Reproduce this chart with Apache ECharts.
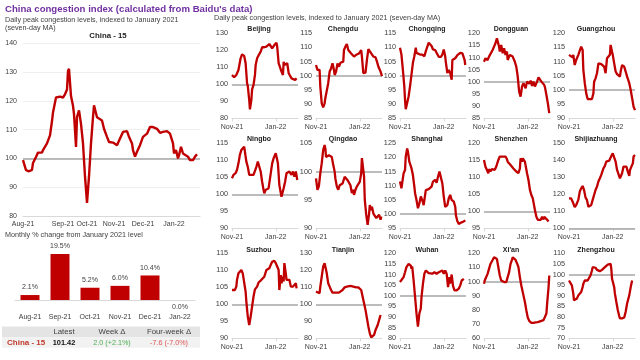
<!DOCTYPE html>
<html><head><meta charset="utf-8">
<script src="https://cdn.jsdelivr.net/npm/echarts@6/dist/echarts.min.js"></script>
<style>html,body{margin:0;padding:0;background:#fff}#c{width:640px;height:360px}</style>
</head><body><div id="c"></div><script>
// ---------- DATA ----------
const chinaTickLabels = ['Aug-21','Sep-21','Oct-21','Nov-21','Dec-21','Jan-22'];
const chinaTickPos = [0,40,64,91,120,151];
const china = [[0,99.4],[3,95.9],[6,95.5],[9,96],[10,98.4],[13,100.5],[15,102],[17,102.6],[19,102],[20,102.9],[24,105.2],[27,108],[29,113],[30,116],[33,121.2],[35,120.8],[37,121.5],[40,121.2],[42,122.3],[44,124],[45,130.4],[46,131.2],[47,126.4],[48,121.7],[50,118.3],[51,115.4],[52,109.8],[53,104],[54,114.4],[56,116.7],[57,117],[58,112],[60,105.2],[62,93.7],[64,84.5],[65,84],[66,93.7],[68,105.2],[70,114.4],[71,118.5],[72,118.5],[74,114.3],[76,114],[79,113.2],[81,110.3],[84,107.5],[86,105.7],[90,105.5],[94,104.6],[97,106.9],[100,109.2],[104,109.5],[106,107.5],[109,105.2],[110,102.9],[112,100.6],[114,102.3],[117,104.6],[120,107.5],[124,108.6],[127,110.9],[130,110.9],[134,110.3],[137,108.9],[140,109.2],[144,109.5],[147,108.6],[150,105.2],[151,101.7],[153,102.9],[155,100],[156,101.1],[158,104],[160,101.7],[162,101.1],[165,100.6],[167,99.4],[170,99.4],[172,100.6],[174,101.42]];

const months = ['Aug-21','Sep-21','Oct-21','Nov-21','Dec-21','Jan-22'];
const monthlyChange = [2.1,19.5,5.2,6.0,10.4,0.0];

const tableHeaders = ['Latest','Week \u0394','Four-week \u0394'];
const tableRowName = 'China - 15';
const tableLatest = '101.42';
const tableWeek = '2.0 (+2.1%)';
const tableFourWeek = '-7.6 (-7.0%)';

const cityTickLabels = ['Nov-21','Jan-22'];
const cityTickPos = [0,61];

const beijing = [[0,105.5],[3,104.1],[6,105.5],[9,108.4],[12,115.3],[14,117.6],[17,116.7],[19,112.4],[21,100.6],[22,99],[24,90.8],[25,85.3],[27,90.8],[28,97],[30,99.6],[32,105.5],[33,111.4],[35,115.3],[38,117.8],[40,119.2],[42,121.8],[45,121.8],[48,122.2],[50,121.8],[52,123.7],[54,123.5],[56,121.2],[58,122.2],[59,123.1],[62,124.5],[63,122.2],[65,112.4],[67,111.4],[69,107.5],[71,105.5],[72,113.3],[73,111.4],[75,111.4],[77,112.4],[79,106.5],[81,105.5],[83,103.5],[85,102.5],[88,102.5],[90,103.5]];
const chengdu = [[0,103.8],[2,102.1],[5,102.1],[6,96.2],[8,90.3],[10,88.9],[12,90.3],[13,92.1],[15,92.6],[17,97.4],[19,101.5],[21,102.6],[23,104.4],[25,102.1],[26,100.3],[28,101.5],[30,104.4],[32,103.2],[34,104.6],[36,104.4],[38,105],[39,109.1],[41,110.3],[43,111.2],[45,109.1],[47,109.4],[49,107.9],[51,108.5],[53,106.8],[56,107.4],[58,107.4],[60,107.9],[63,109.1],[64,106.8],[66,100.9],[67,101.5],[69,101.1],[71,105.6],[73,109.4],[75,108.9],[77,107.9],[80,106.8],[83,106.5],[85,105],[87,103.2],[90,101.5],[92,99.9]];
const chongqing = [[0,109.9],[2,107.5],[4,102.2],[6,96.3],[7,91.5],[8,88.2],[10,88.9],[12,92.7],[14,96.3],[16,100.4],[18,104.6],[20,106.9],[22,109.9],[23,108.1],[25,107.5],[28,107.5],[31,107.5],[34,106.9],[36,108.7],[37,108.1],[40,111.7],[42,111.4],[44,110.5],[46,109.3],[49,109.1],[51,108.1],[54,106.7],[57,106.7],[59,107.5],[61,109.3],[63,106.9],[64,104.6],[66,101],[68,102],[70,101],[72,98.6],[73,105.6],[77,106.2],[80,107.3],[84,108.1],[87,107.9],[90,105.6],[91,103.8]];
const dongguan = [[0,108.3],[2,109.7],[5,109],[7,110.4],[9,111.1],[12,113.1],[14,114.5],[16,115.9],[18,117.9],[19,117.3],[21,114.5],[22,112.5],[24,115.2],[26,111.8],[28,113.8],[30,111.1],[32,112.5],[33,109],[36,111.1],[38,111.8],[40,110.4],[43,108.3],[45,106.3],[47,102.2],[49,96],[51,93.9],[53,98.1],[55,99.4],[57,100.1],[58,97.4],[60,100.1],[63,99.2],[65,100.5],[67,98.3],[69,100.1],[71,98.1],[72,98.7],[74,100.1],[76,101.9],[78,101.1],[80,100.1],[82,100.8],[84,98.7],[85,97.8],[87,94.6],[89,91.2],[91,87.1]];
const guangzhou = [[0,112.4],[2,112],[5,111.5],[6,112.4],[8,108.8],[10,110.6],[13,112.4],[15,113.9],[17,115.3],[19,114.1],[20,107.1],[22,102.4],[24,98.8],[26,96.8],[29,96.8],[32,96.8],[34,98.8],[35,102.9],[37,104.1],[39,105.9],[41,109.4],[43,108.8],[45,109.1],[47,109.4],[49,108.2],[51,105.9],[53,111.2],[55,111.5],[57,112.4],[58,115.9],[60,113.5],[61,112.4],[63,109.4],[65,106.5],[67,105.6],[69,105.9],[71,104.7],[72,106.5],[74,108.8],[77,108.2],[79,106.5],[81,104.7],[84,102.4],[86,100],[88,97.1],[90,94.1],[92,92.9]];
const ningbo = [[0,104.7],[2,105.7],[5,106.2],[7,107.2],[9,109.1],[11,111.6],[13,113],[15,112.5],[17,114],[19,111.1],[20,109.6],[22,108.1],[24,105.7],[27,105.7],[30,105.7],[32,106.2],[34,108.1],[36,109.6],[38,109.1],[40,106.7],[42,103.7],[44,101.3],[45,100.3],[47,101.3],[49,101.8],[51,101.8],[53,104.7],[55,105.2],[56,109.1],[58,110.6],[61,112.1],[63,111.6],[64,109.1],[66,102.7],[69,99.3],[71,98.8],[72,101.8],[74,103.7],[76,106.2],[78,106.7],[80,106.7],[83,105.7],[85,106.7],[87,105.2],[89,106.7],[91,104.2]];
const qingdao = [[0,98.8],[2,96.8],[4,97.4],[6,99.7],[8,101.5],[10,103.8],[12,104.7],[13,104.1],[14,102.6],[16,102.9],[18,102.9],[20,103.2],[22,102.6],[24,101.2],[26,100],[27,98.8],[29,97.4],[31,96.8],[33,97.6],[35,97.5],[37,97.9],[39,97.9],[40,99.1],[42,99.4],[44,98.5],[46,98.2],[48,97.6],[50,96.2],[52,96.8],[53,95.9],[55,96.8],[57,97.4],[59,97.1],[61,98.2],[63,99.7],[64,102.4],[65,102.1],[67,99.1],[68,95],[70,92.4],[72,90.6],[74,92.6],[75,94.1],[77,93.2],[78,93.8],[80,92.6],[82,92.9],[84,91.8],[86,91.5],[88,92.4],[90,91.5],[91,92.1]];
const shanghai = [[0,111.5],[2,109.1],[4,108.5],[5,114.4],[7,115.6],[8,120.3],[10,123.2],[11,122.1],[13,118.5],[14,117.9],[16,116.2],[18,113.8],[20,109.7],[21,107.4],[23,105],[25,102.1],[27,103.8],[29,106.2],[31,105],[33,103.2],[35,106.8],[36,108.5],[38,108.8],[40,108.8],[42,109.5],[44,109.7],[46,111.5],[48,111.5],[49,112.1],[51,111.1],[53,113.2],[55,115],[57,114.4],[59,110.9],[61,106.2],[63,102.6],[64,102.1],[66,103.2],[68,105.6],[70,106.8],[72,105],[75,104.4],[77,102.6],[78,99.5],[80,97.5],[82,96.5],[85,97],[88,97.3],[91,97.8]];
const shenzhen = [[0,115.1],[2,113.1],[4,112.2],[6,111.2],[7,112.4],[9,111.7],[11,112.4],[13,112.6],[15,112.2],[17,113.1],[19,113.6],[20,115.1],[22,116.1],[24,116.1],[27,116.1],[30,116.1],[32,115.3],[33,114.6],[35,114.1],[37,113.6],[39,113.1],[41,112.6],[43,112.2],[45,111.7],[46,111.2],[48,111.2],[50,112.6],[51,115.6],[53,114.6],[54,115.6],[56,116.1],[57,114.6],[59,115.1],[60,111.2],[62,109.2],[64,106.3],[66,104.8],[68,103.8],[70,103.3],[71,100.4],[73,98.4],[75,97.5],[77,97],[79,97.5],[81,98.4],[83,97.6],[84,98.4],[86,97.9],[88,97.5],[90,97]];
const shijiazhuang = [[0,117.6],[3,117.6],[6,114.7],[8,112.4],[10,113.7],[13,116.7],[15,121.6],[17,123.5],[19,124.9],[21,122.5],[23,118.2],[25,116.7],[27,112.7],[29,111.8],[31,113.7],[33,116.7],[35,117.6],[37,122.5],[39,124.5],[41,127.5],[43,129.4],[45,131.4],[46,132.7],[48,135.3],[50,136.7],[52,139.2],[54,138.2],[56,139.8],[58,140.2],[59,142.5],[61,144.1],[63,143.7],[65,139.2],[67,134.3],[69,133.3],[71,129.4],[72,128.4],[74,132.4],[76,136.3],[78,136.7],[80,136.3],[82,133.3],[84,130.8],[85,134.3],[87,136.3],[89,138.2],[90,142.2],[92,143.1]];
const suzhou = [[0,104.2],[2,104.7],[4,104.2],[6,105.2],[7,107.2],[9,109.1],[11,109.6],[13,110.1],[15,109.1],[17,108.6],[19,103.7],[20,100.8],[22,96.4],[24,93.9],[26,96.4],[28,99.3],[30,102.3],[32,104.4],[33,104.7],[35,105.2],[37,106.4],[39,106.7],[41,107.2],[43,107.6],[45,108.1],[46,108.3],[48,110.1],[50,109.6],[52,110.6],[54,111.6],[56,112.5],[58,112.8],[59,112.8],[61,112.1],[63,111.1],[65,110.1],[66,104.2],[68,108.6],[69,106.2],[71,108.1],[72,106.7],[73,112.1],[75,109.1],[76,107.2],[78,107.6],[80,107.2],[82,105.2],[84,104.7],[85,105.2],[87,104.7],[89,106.2],[90,104.7]];
const tianjin = [[0,107.5],[2,106.9],[5,106.5],[6,110.4],[8,116.3],[10,122.2],[12,124.1],[13,122.2],[15,118.2],[17,112.4],[19,110.4],[21,108.4],[23,106.9],[26,106.9],[29,106.9],[32,106.9],[34,107.5],[37,108.4],[40,110],[43,110.4],[45,110.4],[48,110.8],[50,110],[52,110.4],[54,109.4],[56,110],[58,109.4],[59,110],[61,110.4],[63,108.4],[65,104.5],[67,100.6],[69,96.7],[70,95.7],[71,91.8],[73,86.9],[75,82.9],[77,80.6],[79,81],[81,82],[83,84.9],[84,85.9],[86,87.8],[88,90.8],[90,93.7]];
const wuhan = [[0,106.5],[2,107.2],[5,108.8],[7,111.1],[9,113.5],[12,115],[14,115.8],[15,114.2],[16,112.7],[17,113.8],[19,107.2],[21,99.5],[23,91.7],[25,85.5],[27,91.7],[29,94],[30,99.5],[32,105.7],[34,110.4],[36,111.9],[38,111.1],[40,110.7],[42,111.1],[45,110.4],[48,111.1],[51,110.4],[54,111.1],[56,110.7],[59,111.9],[61,110.4],[63,111.9],[65,110.4],[67,104.1],[69,108.8],[70,105.7],[72,110],[74,104.5],[76,102.6],[79,102.6],[82,103.4],[84,104.9],[86,107.2],[89,108]];
const xian = [[0,98.5],[1,100.8],[3,99.7],[5,105.5],[7,109],[9,112.5],[12,115.3],[14,117.2],[16,117.7],[18,116],[20,110.2],[22,104.3],[24,100.8],[26,99.7],[28,99.7],[31,99.7],[33,100.8],[35,106.7],[37,112.5],[39,115.3],[40,117.2],[42,116.7],[44,115.3],[46,113],[48,110.2],[50,103.2],[52,97.3],[53,95],[55,90.3],[57,85.7],[59,79.8],[61,74.7],[63,72.3],[64,71.6],[66,70.9],[69,70.9],[72,71.2],[75,71.4],[77,71.6],[80,72.3],[83,72.8],[85,74],[87,77.5],[88,84.5],[90,96.2],[91,104.3]];
const zhengzhou = [[0,97.2],[2,97.2],[4,94.9],[6,91],[7,87.9],[9,87.1],[11,88.7],[13,90.2],[15,91],[17,91.8],[19,94.1],[20,95.7],[22,97.2],[24,97.2],[26,97.2],[28,97.6],[30,99.6],[32,101.9],[33,103.5],[35,104.2],[37,103.2],[39,102.2],[41,102.7],[43,101.6],[45,101.9],[46,102.2],[48,102.7],[50,103.5],[52,104.2],[54,104.7],[56,105],[58,105],[59,102.7],[60,98],[61,97.2],[63,94.1],[64,91],[66,87.1],[68,83.3],[70,80.5],[71,79.4],[74,79.4],[77,79.8],[79,82.5],[81,86.4],[84,90.2],[86,94.1],[88,97.2]];

const cityNames = ['Beijing','Chengdu','Chongqing','Dongguan','Guangzhou','Ningbo','Qingdao','Shanghai','Shenzhen','Shijiazhuang','Suzhou','Tianjin','Wuhan',"Xi'an",'Zhengzhou'];
const citySeries = [beijing,chengdu,chongqing,dongguan,guangzhou,ningbo,qingdao,shanghai,shenzhen,shijiazhuang,suzhou,tianjin,wuhan,xian,zhengzhou];
const cityAxisMin  = [80,85,85,85,90, 90,90,95,95,100, 90,80,80,60,70];
const cityAxisMax  = [130,115,115,120,120, 115,105,125,120,150, 115,130,120,120,110];
const cityAxisStep = [10,5,5,5,5, 5,5,5,5,10, 5,10,5,10,5];
const baseline = 100;

// ---------- LAYOUT / STYLE ----------
const FONT = '"Liberation Sans", Arial, sans-serif';
const RED = '#C00000';
const TXT = '#404040';
const colLeft = [232, 316, 400, 484, 569];
const rowTop = [33.3, 143.3, 253.3];
const rowTitleY = [29, 139, 250];
const PW = 66, PH = 85;

const grids = [], xAxes = [], yAxes = [], series = [];
const refLine = {silent:true, symbol:'none', z:1, label:{show:false},
  lineStyle:{color:'#a6a6a6', width:1.5, type:'solid'}, data:[{yAxis: baseline}]};

// China line chart
grids.push({left:23, top:43.5, width:177, height:172.3});
xAxes.push({gridIndex:0, type:'value', min:0, max:177,
  axisLine:{show:true, lineStyle:{color:'#d9d9d9'}}, axisTick:{show:false}, splitLine:{show:false},
  axisLabel:{customValues:chinaTickPos, formatter:v=>chinaTickLabels[chinaTickPos.indexOf(v)]||'',
    fontSize:7, color:TXT, fontFamily:FONT, margin:5}});
yAxes.push({gridIndex:0, type:'value', min:80, max:140, interval:10,
  axisLine:{show:false}, axisTick:{show:false},
  splitLine:{show:true, lineStyle:{color:'#efefef'}},
  axisLabel:{fontSize:7, color:TXT, fontFamily:FONT, margin:6}});
series.push({type:'line', xAxisIndex:0, yAxisIndex:0, data:china, showSymbol:false, silent:true,
  lineStyle:{color:RED, width:2.4}, markLine:refLine});

// Monthly bar chart
grids.push({left:15, top:241, width:180, height:59});
xAxes.push({gridIndex:1, type:'category', data:months,
  axisLine:{show:true, lineStyle:{color:'#d9d9d9'}}, axisTick:{show:false},
  axisLabel:{fontSize:7, color:TXT, fontFamily:FONT, margin:14}});
yAxes.push({gridIndex:1, type:'value', min:0, max:25, show:false});
series.push({type:'bar', xAxisIndex:1, yAxisIndex:1, barWidth:19, silent:true,
  data: monthlyChange.map(v=>({value:v, label:{position: v>0 ? 'top' : 'bottom'}})),
  itemStyle:{color:RED},
  label:{show:true, formatter:p=>p.value.toFixed(1)+'%', fontSize:7, color:TXT, fontFamily:FONT, distance:4}});

// City panels
const graphics = [];
cityNames.forEach((name,i)=>{
  const r = Math.floor(i/5), c = i%5, gi = i+2;
  grids.push({left:colLeft[c], top:rowTop[r], width:PW, height:PH});
  xAxes.push({gridIndex:gi, type:'value', min:0, max:92,
    axisLine:{show:true, lineStyle:{color:'#d9d9d9'}},
    axisTick:{show:true, customValues:cityTickPos, length:3, lineStyle:{color:'#d9d9d9'}},
    splitLine:{show:false},
    axisLabel:{customValues:cityTickPos, formatter:v=>cityTickLabels[cityTickPos.indexOf(v)]||'',
      fontSize:7, color:TXT, fontFamily:FONT, margin:5}});
  yAxes.push({gridIndex:gi, type:'value', min:cityAxisMin[i], max:cityAxisMax[i], interval:cityAxisStep[i],
    axisLine:{show:false}, axisTick:{show:false}, splitLine:{show:false},
    axisLabel:{fontSize:7.3, color:TXT, fontFamily:FONT, margin:4}});
  series.push({type:'line', xAxisIndex:gi, yAxisIndex:gi, data:citySeries[i], showSymbol:false, silent:true,
    lineStyle:{color:RED, width:2.3}, markLine:refLine});
  graphics.push({type:'text', x:colLeft[c]+27, y:rowTitleY[r],
    style:{text:name, fontSize:7, fontWeight:'bold', fontFamily:FONT, fill:'#222', align:'center', verticalAlign:'middle'}});
});

function txt(x,y,text,o){
  return Object.assign({type:'text', x, y, style:Object.assign({text, fontSize:7.2, fontFamily:FONT, fill:TXT, align:'left', verticalAlign:'middle'}, o||{})});
}
graphics.push(
  txt(5, 9, "China congestion index (calculated from Baidu's data)", {fontSize:9.6, fontWeight:'bold', fill:'#7030A0'}),
  txt(5, 20, 'Daily peak congestion levels, indexed to January 2021'),
  txt(5, 28, '(seven-day MA)'),
  txt(214, 18.5, 'Daily peak congestion levels, indexed to January 2021 (seven-day MA)'),
  txt(108, 36, 'China - 15', {fontSize:7.8, fontWeight:'bold', fill:'#222', align:'center'}),
  txt(5, 235.5, 'Monthly % change from January 2021 level'),
  {type:'rect', shape:{x:2, y:326.5, width:198, height:10.8}, style:{fill:'#e4e4e4'}},
  {type:'rect', shape:{x:2, y:337.3, width:198, height:10.5}, style:{fill:'#f2f2f2'}},
  txt(64, 331.8, tableHeaders[0], {fontSize:7.8, align:'center'}),
  txt(112, 331.8, tableHeaders[1], {fontSize:7.8, align:'center'}),
  txt(169, 331.8, tableHeaders[2], {fontSize:7.8, align:'center'}),
  txt(7, 342.7, tableRowName, {fontSize:8, fontWeight:'bold', fill:'#C0392B'}),
  txt(64, 342.7, tableLatest, {fontSize:7.4, fontWeight:'bold', fill:'#111', align:'center'}),
  txt(112, 342.7, tableWeek, {fontSize:7.2, fill:'#4CAF50', align:'center'}),
  txt(169, 342.7, tableFourWeek, {fontSize:7.2, fill:'#E05555', align:'center'})
);

const chart = echarts.init(document.getElementById('c'), null, {renderer:'canvas'});
chart.setOption({animation:false, backgroundColor:'#fff',
  grid:grids, xAxis:xAxes, yAxis:yAxes, series:series, graphic:graphics});
</script></body></html>
